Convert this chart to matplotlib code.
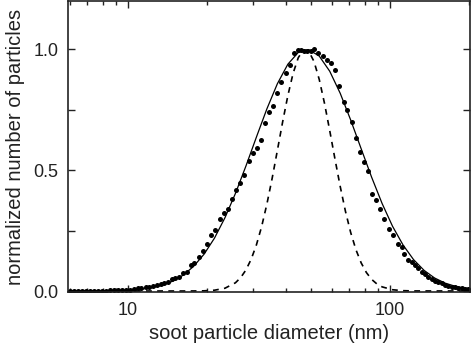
import numpy as np
import matplotlib
matplotlib.use("Agg")
import matplotlib.pyplot as plt
import matplotlib.ticker as tck

plt.rcParams['font.family'] = ['Liberation Sans', 'DejaVu Sans']

# measured size distribution (dots)
d_meas = [6.01, 6.22, 6.45, 6.67, 6.91, 7.16, 7.42, 7.68, 7.96, 8.24, 8.54, 8.84,
          9.16, 9.49, 9.83, 10.18, 10.57, 10.89, 11.21, 11.71, 12.06, 12.49, 12.87,
          13.37, 13.75, 14.17, 14.72, 15.15, 15.70, 16.26, 16.75, 17.40, 17.91,
          18.61, 19.28, 20.02, 20.74, 21.54, 22.45, 23.25, 24.15, 25.01, 25.84,
          26.83, 27.80, 28.89, 29.92, 31.07, 32.19, 33.34, 34.62, 35.86, 37.14,
          38.47, 39.99, 41.42, 42.90, 44.44, 45.75, 47.10, 48.35, 49.81, 51.41,
          53.25, 55.35, 57.34, 59.39, 61.68, 63.89, 66.59, 68.71, 71.42, 74.17,
          76.83, 79.58, 82.64, 85.59, 88.65, 91.83, 95.11, 98.86, 102.68, 107.58,
          110.83, 113.40, 117.45, 121.02, 124.59, 128.24, 132.13, 136.02, 140.03,
          144.30, 148.54, 152.92, 157.53, 162.18, 166.95, 172.03, 177.10, 182.31,
          187.84, 193.37, 199.07]
n_meas = [0.001, 0.001, 0.001, 0.001, 0.001, 0.001, 0.002, 0.002, 0.002, 0.002, 0.003, 0.003,
          0.003, 0.004, 0.005, 0.006, 0.008, 0.011, 0.012, 0.015, 0.018, 0.022, 0.025,
          0.029, 0.033, 0.038, 0.049, 0.052, 0.060, 0.074, 0.079, 0.107, 0.115,
          0.139, 0.166, 0.195, 0.230, 0.251, 0.296, 0.321, 0.340, 0.379, 0.417,
          0.447, 0.481, 0.540, 0.571, 0.593, 0.623, 0.697, 0.742, 0.767, 0.818,
          0.866, 0.902, 0.934, 0.985, 0.996, 0.996, 0.993, 0.992, 0.993, 1.000,
          0.985, 0.971, 0.958, 0.944, 0.914, 0.849, 0.783, 0.749, 0.701, 0.635,
          0.575, 0.535, 0.498, 0.403, 0.376, 0.340, 0.296, 0.258, 0.230, 0.193,
          0.184, 0.152, 0.129, 0.118, 0.107, 0.097, 0.077, 0.070, 0.059,
          0.049, 0.042, 0.036, 0.032, 0.026, 0.022, 0.018, 0.015, 0.012,
          0.011, 0.009, 0.008]

# lognormal fit (solid line)
d_fit = [5.89, 6.46, 7.08, 7.76, 8.51, 9.33, 10.23, 11.22, 12.30, 13.49, 14.79, 16.22,
         17.78, 19.50, 21.38, 23.44, 25.70, 28.18, 30.90, 33.88, 37.15, 40.74, 44.67,
         48.98, 53.70, 58.88, 64.57, 70.79, 77.62, 85.11, 93.33, 102.3, 112.2, 123.0,
         134.9, 147.9, 162.2, 177.8, 195.0, 204.2]
n_fit = [0.0000, 0.0001, 0.0002, 0.0005, 0.0010, 0.0020, 0.0040, 0.0075, 0.0136, 0.0239,
         0.0402, 0.0652, 0.1016, 0.1521, 0.2189, 0.3033, 0.4037, 0.5169, 0.6367, 0.7535,
         0.8575, 0.9385, 0.9875, 0.9992, 0.9722, 0.9095, 0.8181, 0.7076, 0.5886, 0.4707,
         0.3619, 0.2676, 0.1902, 0.1300, 0.0855, 0.0540, 0.0328, 0.0192, 0.0108, 0.0080]

# narrow distribution (dashed line)
d_narrow = [5.89, 16.22, 17.78, 19.50, 21.38, 23.44, 25.70, 26.92, 28.18, 29.51, 30.90,
            32.36, 33.88, 35.48, 37.15, 38.90, 40.74, 42.66, 44.67, 46.77, 48.98, 51.29,
            53.70, 56.23, 58.88, 61.66, 64.57, 67.61, 70.79, 74.13, 77.62, 81.28, 85.11,
            89.13, 93.33, 102.3, 112.2, 123.0, 204.2]
n_narrow = [0.0, 0.0, 0.0002, 0.0008, 0.0033, 0.0115, 0.0340, 0.0555, 0.0869, 0.1312,
            0.1905, 0.2666, 0.3591, 0.4655, 0.5811, 0.6985, 0.8083, 0.9006, 0.9660,
            0.9977, 0.9920, 0.9497, 0.8753, 0.7768, 0.6637, 0.5459, 0.4324, 0.3297,
            0.2420, 0.1710, 0.1164, 0.0763, 0.0481, 0.0292, 0.0171, 0.0052, 0.0014,
            0.0003, 0.0]

fig = plt.figure(figsize=(4.74, 3.48), dpi=100)
ax = fig.add_axes([0.1435, 0.161, 0.848, 0.836])

ax.plot(d_fit, n_fit, color='black', lw=0.9)
ax.plot(d_narrow, n_narrow, color='black', lw=1.2, dashes=(3.5, 3.2))
ax.plot(d_meas, n_meas, 'o', color='black', ms=3.6, mew=0)

ax.set_xscale('log')
ax.set_xlim(5.9, 202)
ax.set_ylim(-0.004, 1.2)
ax.set_yticks([0.0, 0.5, 1.0])
ax.yaxis.set_minor_locator(tck.MultipleLocator(0.25))
ax.xaxis.set_major_formatter(tck.FuncFormatter(lambda v, p: '%d' % v))
ax.xaxis.set_minor_formatter(tck.NullFormatter())
ax.yaxis.set_major_formatter(tck.FormatStrFormatter('%.1f'))

ax.tick_params(axis='both', which='both', direction='in', top=True, right=True,
               labelsize=13, width=1.0, color='#222222', labelcolor='#222222')
ax.tick_params(axis='both', which='major', length=5, pad=7)
ax.tick_params(axis='y', which='minor', length=5)
ax.tick_params(axis='x', which='minor', length=3)
for s in ax.spines.values():
    s.set_linewidth(1.2)
    s.set_color('#222222')

ax.set_xlabel('soot particle diameter (nm)', fontsize=14.5, color='#222222', labelpad=4)
ax.set_ylabel('normalized number of particles', fontsize=14.5, color='#222222', labelpad=6)

fig.savefig('out.png', dpi=100)
